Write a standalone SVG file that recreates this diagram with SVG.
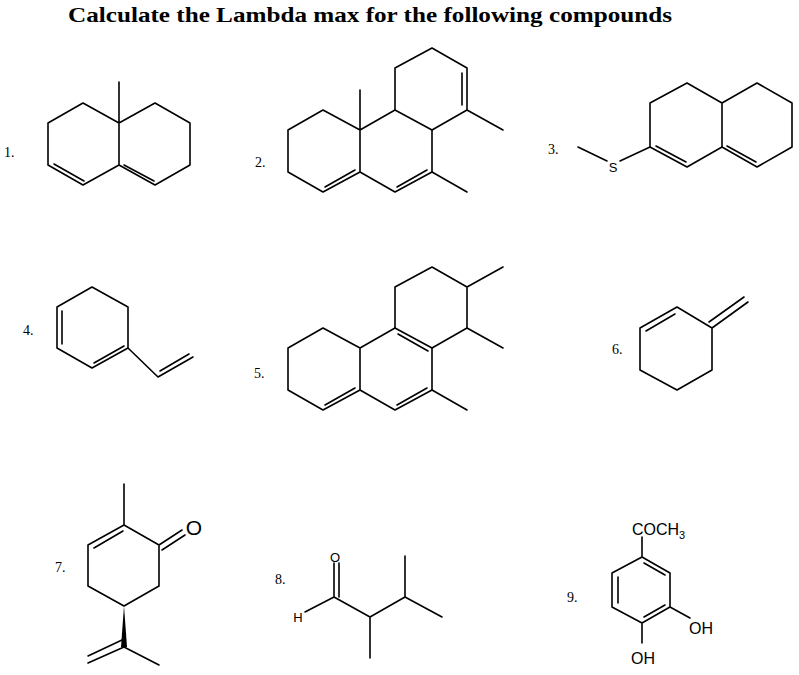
<svg xmlns="http://www.w3.org/2000/svg" width="799" height="675" viewBox="0 0 799 675">
<style>
.b{fill:none;stroke:#000;stroke-width:1.6;stroke-linejoin:round;stroke-linecap:round}
.n{font-family:"Liberation Serif",serif;font-size:14px}
.a{font-family:"Liberation Sans",Arial,sans-serif}
</style>
<rect width="799" height="675" fill="#fff"/>
<text x="68" y="22" font-family="Liberation Serif,serif" font-weight="bold" font-size="22" textLength="604" lengthAdjust="spacingAndGlyphs">Calculate the Lambda  max for the following compounds</text>
<g class="b">
<!-- 1 -->
<path d="M119,82V123L83,103L48,123V165L83,185L119,165V123L155,103L190,123V165L155,185L119,165"/>
<path d="M54,164L84,181M124,165L154,181"/>
<!-- 2 -->
<path d="M360,90V130L323,110L288,130V172L323,192L360,172V130L395,110L432,130V172L395,192L360,172"/>
<path d="M395,110V68L432,48L467,68V110L432,130M467,110L503,130M432,172L467,192"/>
<path d="M325,187L355,170M397,187L427,170M462,73V105"/>
<!-- 3 -->
<path d="M578,147L607,161M620,161L650,147V103L687,83L722,103V147L687,167L650,147M722,103L757,83L792,103V147L757,167L722,147"/>
<path d="M656,146L686,162M727,146L756,162"/>
<!-- 4 -->
<path d="M92,287L128,307V348L92,368L57,348V307ZM128,348L158,377L193,357"/>
<path d="M62,311V344M94,363L124,346M160,371L189,354"/>
<!-- 5 -->
<path d="M323,328L288,348V390L323,410L360,390V348ZM360,348L395,328L432,348V390L395,410L360,390"/>
<path d="M395,328V287L432,267L467,287V328L432,348M467,287L503,267M467,328L503,348M432,390L467,410"/>
<path d="M325,405L355,388M397,405L427,388M398,334L428,351"/>
<!-- 6 -->
<path d="M640,328L677,307L712,328V370L677,390L640,370ZM712,328L748,302"/>
<path d="M646,331L675,314M709,322L744,297"/>
<!-- 7 -->
<path d="M124,484V525M124,525L159,545V586L124,606L88,586V545ZM159,545L182,530M124,647L159,665M124,647L88,663"/>
<path d="M94,548L123,531M162,550L185,535M88,656L122,640"/>
<!-- 8 -->
<path d="M305,612L334,597L370,617L405,597L442,617M370,617V658M405,597V556M334,597V563M339,597V563"/>
<!-- 9 -->
<path d="M642,557L670,573V607L642,623L612,607V573ZM642,557V537M670,607L690,618M642,623V643"/>
<path d="M644,563L665,575M618,577V603M644,617L665,605"/>
</g>
<polygon points="124,606 121,647 127,647" fill="#000"/>
<g class="n">
<text x="4" y="157">1.</text>
<text x="255" y="167">2.</text>
<text x="548" y="154">3.</text>
<text x="23" y="335">4.</text>
<text x="254" y="378">5.</text>
<text x="612" y="354">6.</text>
<text x="55" y="572">7.</text>
<text x="275" y="584">8.</text>
<text x="567" y="602">9.</text>
</g>
<g class="a">
<text x="613" y="172" font-size="13" text-anchor="middle">S</text>
<text x="194" y="535" font-size="21" text-anchor="middle">O</text>
<text x="335" y="562" font-size="13" text-anchor="middle">O</text>
<text x="298" y="622" font-size="13" text-anchor="middle">H</text>
<text x="632" y="535" font-size="16">COCH<tspan font-size="11" dy="4">3</tspan></text>
<text x="689" y="634" font-size="16">OH</text>
<text x="631" y="664" font-size="16">OH</text>
</g>
</svg>
